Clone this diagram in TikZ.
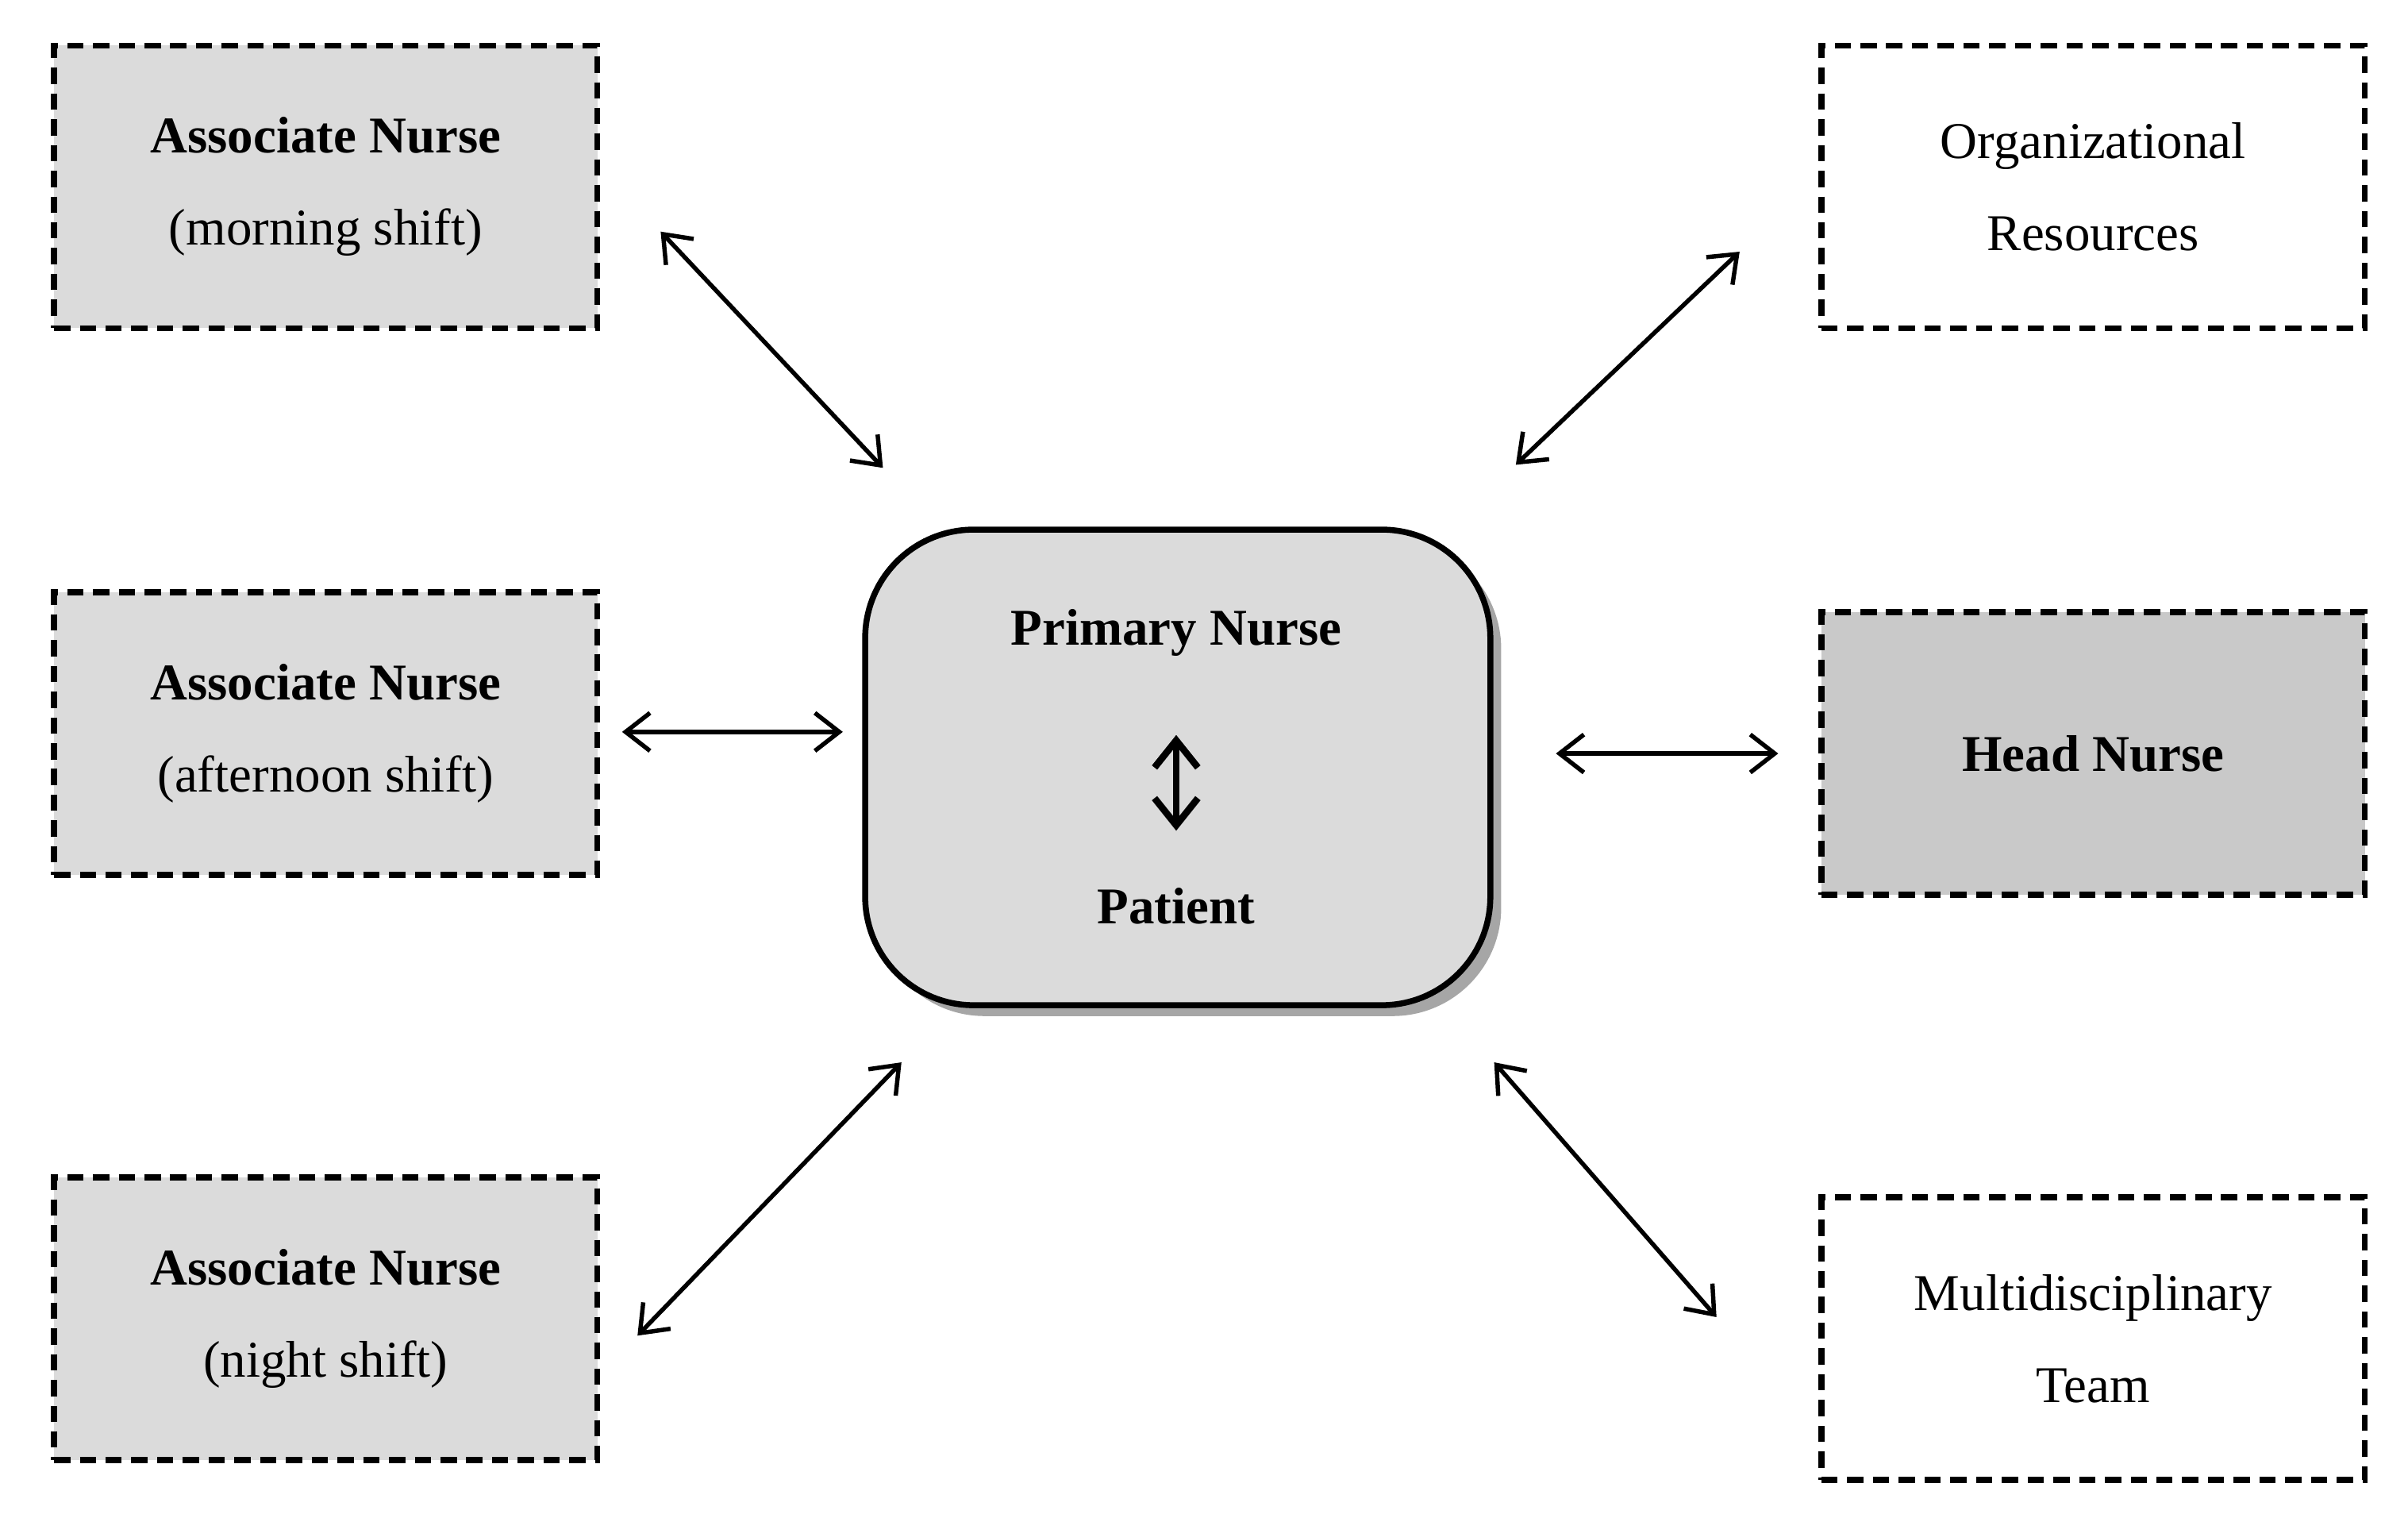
\documentclass[tikz,border=0pt]{standalone}
\usepackage{fontspec}
\setmainfont{Liberation Serif}
\usetikzlibrary{arrows.meta,shadows}
\begin{document}
\begin{tikzpicture}[x=0.02cm,y=-0.02cm,
 box/.style={draw,dashed,line width=2.2pt,dash pattern=on 6pt off 3.5pt,minimum width=352*0.02cm,minimum height=183*0.02cm,align=center,font=\fontsize{19}{34}\selectfont,inner sep=0pt},
 con/.style={line width=1.6pt,{Straight Barb[length=9pt,width=14pt,line width=1.6pt]}-{Straight Barb[length=9pt,width=14pt,line width=1.6pt]}}]
\useasboundingbox (0,0) rectangle (1560,983);
\node[box,fill=gray!28] (m) at (211,121) {\textbf{Associate Nurse}\\(morning shift)};
\node[box,fill=gray!28] (a) at (211,475) {\textbf{Associate Nurse}\\(afternoon shift)};
\node[box,fill=gray!28] (n) at (211,854) {\textbf{Associate Nurse}\\(night shift)};
\node[box,fill=white] (o) at (1356,121) {Organizational\\Resources};
\node[box,fill=gray!42] (h) at (1356,488) {\textbf{Head Nurse}};
\node[box,fill=white] (t) at (1356,867) {Multidisciplinary\\Team};
\node[draw,line width=2.2pt,rounded corners=40pt,fill=gray!28,minimum width=405*0.02cm,minimum height=308*0.02cm,
 drop shadow={shadow xshift=4pt,shadow yshift=-4pt,fill=gray!70,opacity=1}] (c) at (763,497) {};
\node[font=\fontsize{19}{22}\selectfont\bfseries] (pn) at (762,410) {Primary Nurse};
\node[font=\fontsize{19}{22}\selectfont\bfseries] (pt) at (762,587) {Patient};
\coordinate (i1) at (762,476); \coordinate (i2) at (762,538);
\draw[line width=2.5pt,{Straight Barb[length=10pt,width=16pt,line width=2.5pt]}-{Straight Barb[length=10pt,width=16pt,line width=2.5pt]}] (i1) -- (i2);
\coordinate (m1) at (428,150); \coordinate (m2) at (572,303);
\coordinate (a1) at (403,474); \coordinate (a2) at (546,474);
\coordinate (n1) at (413,865); \coordinate (n2) at (584,688);
\coordinate (o1) at (1127,163); \coordinate (o2) at (982,301);
\coordinate (h1) at (1008,488); \coordinate (h2) at (1152,488);
\coordinate (t1) at (968,688); \coordinate (t2) at (1112,853);
\draw[con] (m1)--(m2); \draw[con] (a1)--(a2); \draw[con] (n1)--(n2);
\draw[con] (o1)--(o2); \draw[con] (h1)--(h2); \draw[con] (t1)--(t2);
\end{tikzpicture}
\end{document}
